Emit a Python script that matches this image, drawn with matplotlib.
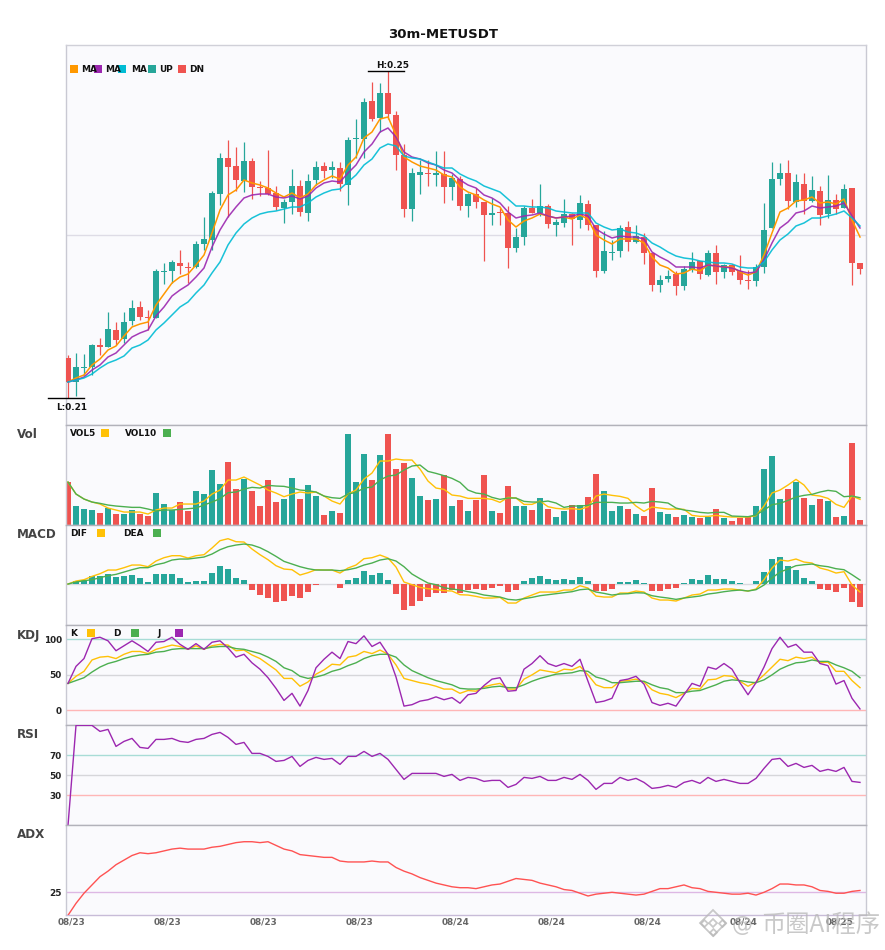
import numpy as np
import matplotlib
matplotlib.use("Agg")
import matplotlib.pyplot as plt
import matplotlib.patheffects as pe
from matplotlib.lines import Line2D
from matplotlib.patches import Rectangle

# prices are in units of 0.0001
open_p = [2189,2165,2179,2180,2202,2200,2217,2208,2226,2240,
          2230,2229,2275,2276,2284,2280,2280,2303,2307,2353,
          2389,2381,2366,2386,2360,2359,2354,2339,2345,2361,
          2334,2367,2381,2377,2379,2362,2408,2408,2446,2429,
          2454,2432,2392,2338,2372,2374,2372,2373,2360,2368,
          2341,2353,2345,2332,2335,2334,2299,2310,2339,2334,
          2341,2322,2324,2333,2327,2343,2322,2276,2294,2296,
          2320,2305,2310,2294,2262,2268,2273,2261,2277,2286,
          2272,2294,2275,2282,2276,2267,2266,2280,2319,2368,
          2374,2345,2363,2346,2356,2333,2347,2339,2359,2284]
close_p = [2165,2180,2180,2202,2200,2218,2207,2225,2239,2230,
           2229,2276,2276,2285,2281,2279,2303,2308,2354,2389,
           2380,2367,2386,2360,2359,2353,2340,2345,2361,2335,
           2366,2380,2376,2380,2363,2407,2409,2445,2428,2454,
           2433,2392,2338,2374,2375,2373,2374,2360,2369,2341,
           2353,2345,2332,2334,2334,2299,2310,2339,2334,2341,
           2323,2325,2333,2328,2344,2322,2276,2296,2295,2319,
           2305,2311,2294,2262,2267,2271,2261,2278,2285,2273,
           2294,2275,2282,2275,2267,2266,2280,2317,2368,2374,
           2346,2365,2346,2357,2332,2347,2338,2358,2284,2278]
high_p = [2192,2194,2193,2203,2209,2235,2225,2235,2247,2246,
          2237,2278,2284,2287,2297,2285,2306,2330,2356,2394,
          2407,2400,2405,2389,2366,2397,2361,2348,2378,2367,
          2373,2386,2385,2386,2385,2410,2428,2449,2465,2464,
          2476,2436,2403,2379,2387,2387,2396,2396,2373,2371,
          2354,2359,2345,2349,2339,2341,2319,2341,2348,2363,
          2343,2328,2348,2334,2352,2347,2322,2316,2307,2322,
          2326,2322,2314,2294,2272,2277,2276,2281,2295,2286,
          2297,2302,2283,2283,2292,2277,2283,2344,2385,2384,
          2387,2373,2374,2371,2361,2372,2353,2363,2359,2284]
low_p = [2149,2151,2172,2172,2192,2200,2202,2204,2222,2227,
         2217,2229,2263,2264,2273,2264,2279,2297,2297,2342,
         2330,2356,2355,2348,2351,2352,2337,2324,2333,2331,
         2326,2362,2369,2369,2356,2342,2389,2389,2426,2415,
         2428,2377,2330,2326,2353,2361,2361,2344,2347,2337,
         2330,2339,2286,2322,2322,2279,2295,2302,2334,2331,
         2319,2311,2320,2302,2319,2317,2270,2274,2287,2290,
         2296,2304,2283,2256,2255,2265,2252,2257,2275,2268,
         2271,2263,2269,2272,2263,2258,2261,2274,2319,2362,
         2338,2340,2333,2345,2322,2329,2333,2339,2262,2273]

ma5 = [2165,2169,2172,2182,2188,2197,2201,2211,2220,2223,
       2225,2242,2253,2264,2270,2273,2282,2292,2314,2337,
       2352,2357,2367,2364,2362,2359,2354,2350,2354,2349,
       2353,2362,2367,2371,2368,2382,2390,2409,2415,2428,
       2430,2412,2390,2385,2381,2379,2377,2372,2370,2360,
       2355,2352,2347,2343,2340,2327,2320,2326,2329,2333,
       2331,2329,2330,2328,2332,2328,2312,2307,2303,2308,
       2308,2308,2304,2290,2282,2279,2273,2274,2278,2276,
       2282,2281,2280,2280,2275,2272,2275,2292,2314,2335,
       2339,2346,2347,2350,2344,2345,2343,2348,2327,2310]
ma10 = [2165,2167,2170,2177,2182,2190,2194,2202,2210,2214,
        2217,2231,2240,2251,2257,2262,2270,2279,2300,2317,
        2330,2340,2349,2352,2353,2353,2350,2349,2351,2348,
        2351,2359,2364,2366,2365,2374,2382,2395,2403,2415,
        2419,2410,2395,2390,2388,2384,2382,2377,2374,2367,
        2362,2359,2352,2349,2344,2335,2329,2331,2332,2334,
        2331,2329,2330,2331,2333,2331,2318,2313,2309,2311,
        2310,2310,2308,2295,2290,2286,2280,2280,2280,2279,
        2282,2281,2280,2279,2276,2274,2275,2287,2304,2319,
        2325,2334,2336,2341,2339,2340,2341,2344,2331,2319]
ma20 = [2165,2167,2169,2173,2179,2184,2187,2191,2199,2202,
        2207,2217,2224,2232,2240,2245,2254,2262,2274,2285,
        2302,2314,2323,2329,2333,2335,2336,2338,2340,2340,
        2344,2350,2354,2357,2358,2365,2372,2382,2388,2399,
        2403,2401,2391,2389,2388,2385,2382,2379,2379,2373,
        2369,2366,2361,2358,2355,2348,2341,2341,2340,2340,
        2339,2336,2335,2334,2334,2334,2324,2320,2317,2318,
        2315,2314,2311,2304,2300,2295,2291,2289,2288,2286,
        2285,2284,2284,2283,2280,2279,2279,2285,2297,2307,
        2313,2321,2324,2329,2329,2331,2333,2336,2329,2321]

vol = [128,56,47,44,35,50,32,32,44,32,
       26,95,62,44,68,41,101,92,164,122,
       188,107,137,101,56,134,68,77,140,77,
       119,86,29,41,35,272,128,212,134,209,
       272,167,185,140,86,74,77,149,56,74,
       41,74,149,41,35,116,56,56,44,80,
       47,23,41,59,59,83,152,101,41,56,
       47,32,26,110,38,32,23,29,23,20,
       23,47,20,11,20,23,56,167,206,77,
       107,128,80,59,77,71,23,26,245,14]
vol5 = [128,92,77,68,62,50,44,38,38,38,
        32,44,50,50,62,62,62,71,92,104,
        134,134,143,131,119,104,95,84,92,98,
        95,98,86,71,62,92,104,137,155,191,
        191,197,194,194,167,131,110,106,89,86,
        79,79,79,76,67,82,80,61,61,71,
        54,49,47,48,46,54,86,92,88,85,
        79,56,40,53,50,47,47,46,28,25,
        25,28,25,23,23,23,27,56,95,104,
        119,136,119,89,86,79,61,52,86,76]
vol10 = [128,92,77,68,64,59,56,54,52,52,
         47,41,44,44,46,48,50,59,68,78,
         96,98,107,112,110,118,116,115,110,104,
         102,98,86,81,79,92,97,110,113,134,
         146,149,164,176,179,160,154,147,139,127,
         104,95,92,82,76,80,80,70,68,68,
         71,65,52,56,56,58,67,67,67,65,
         65,67,65,70,68,65,50,44,41,37,
         35,37,37,26,25,24,29,44,60,64,
         73,83,88,91,98,103,100,84,86,81]

macd_hist = [0,10,13,25,25,31,22,25,28,19,
             7,31,31,31,19,7,10,10,34,55,
             46,19,13,-17,-32,-41,-53,-50,-35,-41,
             -23,-2,0,0,-11,13,19,40,28,34,
             13,-29,-77,-65,-50,-38,-26,-26,-17,-26,
             -17,-14,-17,-11,-5,-23,-17,10,19,25,
             16,13,16,13,22,10,-20,-20,-14,7,
             7,13,4,-20,-20,-14,-11,4,16,13,
             28,16,16,10,4,0,10,37,76,82,
             55,43,19,10,-14,-17,-23,-11,-53,-68]
dif = [0,9,13,23,31,42,42,49,57,57,
       52,69,79,85,85,78,85,88,108,130,
       136,127,126,105,88,73,55,45,43,27,
       34,43,42,42,33,48,57,76,79,87,
       78,51,6,-2,-10,-14,-16,-20,-21,-32,
       -33,-37,-42,-42,-40,-57,-57,-42,-33,-24,
       -24,-24,-18,-18,-5,-12,-36,-39,-39,-27,
       -27,-21,-24,-42,-48,-48,-51,-42,-33,-30,
       -18,-18,-15,-15,-18,-21,-15,13,48,72,
       69,75,66,63,48,42,33,37,-3,-24]
dea = [0,6,10,13,19,25,29,36,43,49,
       49,58,63,72,75,75,78,81,90,103,
       112,117,120,117,109,97,83,68,60,52,
       46,42,42,42,40,43,48,57,63,72,
       76,69,52,30,16,3,-2,-11,-15,-18,
       -23,-27,-33,-36,-39,-46,-48,-44,-40,-35,
       -32,-29,-26,-23,-17,-15,-24,-28,-33,-30,
       -29,-26,-27,-35,-39,-42,-46,-42,-39,-36,
       -30,-27,-23,-20,-18,-21,-17,-3,18,36,
       45,55,58,60,55,52,46,43,28,12]

k_line = [38,48,55,71,75,76,73,79,83,83,
          80,86,89,92,90,86,91,86,91,93,
          92,84,85,78,73,65,57,45,45,34,
          40,51,57,65,64,75,77,83,80,85,
          79,64,45,42,39,37,34,30,30,24,
          28,27,33,36,38,30,30,44,50,57,
          55,53,58,57,62,50,36,32,32,41,
          42,44,40,29,24,22,18,24,31,30,
          43,44,49,48,41,34,40,50,61,72,
          70,75,73,75,67,68,55,55,42,32]
d_line = [38,42,46,54,61,66,69,73,76,78,
          79,82,83,86,87,87,87,87,89,90,
          90,87,86,83,80,75,69,60,56,48,
          45,47,50,55,58,63,67,73,77,79,
          79,75,64,56,51,46,42,39,36,31,
          30,30,31,33,34,32,32,36,41,45,
          48,51,52,53,56,55,47,44,39,39,
          40,41,41,36,32,30,25,25,27,28,
          32,36,41,43,42,40,39,43,50,58,
          63,67,68,71,69,69,64,60,55,46]
j_line = [38,62,73,101,103,98,84,91,98,91,
          83,96,97,103,93,86,94,86,96,98,
          88,75,79,67,58,46,31,14,24,6,
          28,60,72,82,73,97,94,105,90,96,
          79,47,6,8,13,15,19,15,18,10,
          22,24,35,44,46,27,28,58,66,77,
          66,62,66,62,72,41,11,13,17,42,
          44,48,37,11,7,10,6,22,38,34,
          61,58,66,58,39,22,39,61,87,103,
          89,93,82,82,66,63,37,42,17,2]

rsi = [0,100,100,100,94,96,79,84,87,78,
       77,86,86,87,84,83,86,87,91,93,
       88,81,83,72,72,69,64,65,69,59,
       65,68,66,67,61,69,69,74,69,72,
       66,56,46,52,52,52,52,49,51,45,
       48,47,44,45,45,38,41,48,47,49,
       45,45,48,46,51,45,36,42,42,48,
       45,47,43,37,38,40,38,43,45,42,
       48,44,46,44,42,42,47,57,66,67,
       59,62,58,60,54,56,54,58,44,43]

adx = [0,13,24,33,42,48,55,60,65,68,
       67,68,70,72,73,72,72,72,74,75,
       77,79,80,80,79,80,76,72,70,66,
       65,64,63,63,59,58,58,58,59,58,
       58,52,48,45,41,38,35,33,31,30,
       30,29,31,33,34,37,40,39,38,35,
       33,31,28,27,24,21,23,24,25,24,
       23,22,23,26,29,29,31,33,30,29,
       26,25,24,23,23,24,22,25,29,34,
       34,33,33,31,27,26,24,24,26,27]

tick_idx = [0, 12, 24, 36, 48, 60, 72, 84, 96]
tick_labels = ["08/23", "08/23", "08/23", "08/23", "08/24", "08/24", "08/24", "08/24", "08/25"]

W, H = 885, 950
UP = "#26A69A"
DN = "#EF5350"
GOLD = "#FFC107"
GREEN = "#4CAF50"
PURPLE = "#9C27B0"

x = np.arange(len(open_p))
o = np.array(open_p) / 10000
c = np.array(close_p) / 10000
hi = np.array(high_p) / 10000
lo = np.array(low_p) / 10000
colors = [UP if b >= a else DN for a, b in zip(o, c)]

fig = plt.figure(figsize=(W / 100, H / 100), dpi=100)
edges = [45, 424.7, 524.7, 624.7, 724.7, 824.7, 915.3]
axes = []
for top, bottom in zip(edges[:-1], edges[1:]):
    ax = fig.add_axes([66 / W, 1 - bottom / H, 800 / W, (bottom - top) / H])
    ax.set_facecolor("#FAFAFD")
    ax.set_xlim(-0.25, 99.75)
    ax.set_xticks([])
    ax.set_yticks([])
    for s in ax.spines.values():
        s.set_color("#C9C9D3")
        s.set_linewidth(1)
    ax.spines["top"].set_color("#B2B2BA")
    axes.append(ax)
ax_main, ax_vol, ax_macd, ax_kdj, ax_rsi, ax_adx = axes
ax_main.spines["top"].set_color("#D0D0D8")
ax_adx.spines["bottom"].set_color("#C8BCD8")


def fig_text(px, py, s, **kw):
    kw.setdefault("fontsize", 6.4)
    kw.setdefault("fontweight", "bold")
    kw.setdefault("va", "center")
    kw.setdefault("color", "#111111")
    return fig.text(px / W, 1 - py / H, s, **kw)


def square(px, py, color, size=8):
    fig.add_artist(Rectangle((px / W, 1 - (py + size) / H), size / W, size / H,
                             transform=fig.transFigure, color=color, lw=0))


def hline_ticks(ax, values, line_colors):
    for v, col in zip(values, line_colors):
        ax.axhline(v, color=col, lw=1, zorder=1)
    ax.set_yticks(values)
    ax.set_yticklabels([str(v) for v in values], fontsize=6.4, fontweight="bold", color="#222222")
    ax.tick_params(axis="y", length=0, pad=3)


# candles
ax_main.axhline(0.2312, color="#DEDCE6", lw=1, zorder=1)
ax_main.vlines(x, lo, hi, colors=colors, lw=0.9, zorder=2)
ax_main.bar(x, np.abs(c - o), bottom=np.minimum(o, c), width=0.75, color=colors, zorder=3)
ax_main.plot(x, np.array(ma5) / 10000, color="#FF9800", lw=1.1, zorder=4)
ax_main.plot(x, np.array(ma10) / 10000, color=PURPLE, lw=1.1, alpha=0.9, zorder=4)
ax_main.plot(x, np.array(ma20) / 10000, color="#00BCD4", lw=1.1, alpha=0.9, zorder=4)
ax_main.set_ylim(0.21223, 0.2502)
ax_main.plot([37.5, 42], [max(hi)] * 2, color="black", lw=1, clip_on=False, zorder=5)
ax_main.plot([-2.5, 2], [min(lo)] * 2, color="black", lw=1, clip_on=False, zorder=5)
fig_text(392.5, 65, "H:0.25", ha="center")
fig_text(71.5, 407, "L:0.21", ha="center")

# volume
ax_vol.bar(x, vol, width=0.75, color=colors, zorder=2)
ax_vol.plot(x, vol5, color=GOLD, lw=1, zorder=3)
ax_vol.plot(x, vol10, color=GREEN, lw=1, zorder=3)
ax_vol.set_ylim(0, 300)

# macd
ax_macd.axhline(0, color="#DADADF", lw=1, zorder=1)
ax_macd.bar(x, macd_hist, width=0.75, color=[UP if v >= 0 else DN for v in macd_hist], zorder=2)
ax_macd.plot(x, dif, color=GOLD, lw=1, zorder=3)
ax_macd.plot(x, dea, color=GREEN, lw=1, zorder=3)
ax_macd.set_ylim(-122, 178)

# kdj
hline_ticks(ax_kdj, [100, 50, 0], ["#A8DCD6", "#D6D6DA", "#FFB6B6"])
ax_kdj.plot(x, k_line, color=GOLD, lw=1, zorder=3)
ax_kdj.plot(x, d_line, color=GREEN, lw=1, zorder=3)
ax_kdj.plot(x, j_line, color=PURPLE, lw=1, zorder=3)
ax_kdj.set_ylim(-20.2, 120.7)

# rsi
hline_ticks(ax_rsi, [70, 50, 30], ["#A8DCD6", "#D6D6DA", "#FFB6B6"])
ax_rsi.plot(x, rsi, color=PURPLE, lw=1, zorder=3)
ax_rsi.set_ylim(0.7, 100.7)

# adx
hline_ticks(ax_adx, [25], ["#DDB8E4"])
ax_adx.plot(x, adx, color="#FF5252", lw=1, zorder=3)
ax_adx.set_ylim(0, 98.5)
ax_adx.set_xticks([i + 0.4 for i in tick_idx])
ax_adx.set_xticklabels(tick_labels, fontsize=6.4, fontweight="bold", color="#666666")
ax_adx.tick_params(axis="x", length=0, pad=1.5)

fig_text(443.5, 34, "30m-METUSDT", ha="center", fontsize=9.5)
for name, py in [("Vol", 435), ("MACD", 535), ("KDJ", 635), ("RSI", 735), ("ADX", 835)]:
    fig_text(17, py, name, fontsize=8.6, color="#444444")

# legends
fig_text(81, 69, "MA")
fig_text(105, 69, "MA")
fig_text(131, 69, "MA")
fig_text(159, 69, "UP")
fig_text(189, 69, "DN")
square(70, 65, "#FF9800")
square(94, 65, PURPLE)
square(118, 65, "#00BCD4")
square(148, 65, UP)
square(178, 65, DN)

fig_text(70, 433.5, "VOL5")
square(101, 429, GOLD)
fig_text(125, 433.5, "VOL10")
square(163, 429, GREEN)

fig_text(70, 534, "DIF")
square(97, 529, GOLD)
fig_text(123, 534, "DEA")
square(153, 529, GREEN)

fig_text(70, 634, "K")
square(87, 629, GOLD)
fig_text(113, 634, "D")
square(131, 629, GREEN)
fig_text(157, 634, "J")
square(175, 629, PURPLE)

# watermark, see-through so the tick labels under it still show
wm = (0.72, 0.72, 0.72, 0.75)
for mx, my, ms in [(713, 923, 13.5), (713, 923, 4.5), (704, 923, 3.5), (722, 923, 3.5), (713, 932, 3.5)]:
    fig.add_artist(Line2D([mx / W], [1 - my / H], marker="D", ms=ms, mfc="none", mec=wm, mew=1.3,
                          ls="none", transform=fig.transFigure))
fig_text(732, 925, "@", fontsize=15, fontweight="normal", color=wm)
fig_text(761, 925, "币圈AI程序", fontsize=17.5, fontweight="normal", color=wm,
         family=["Noto Sans CJK SC", "DejaVu Sans"])

fig.savefig("out.png", dpi=100)
